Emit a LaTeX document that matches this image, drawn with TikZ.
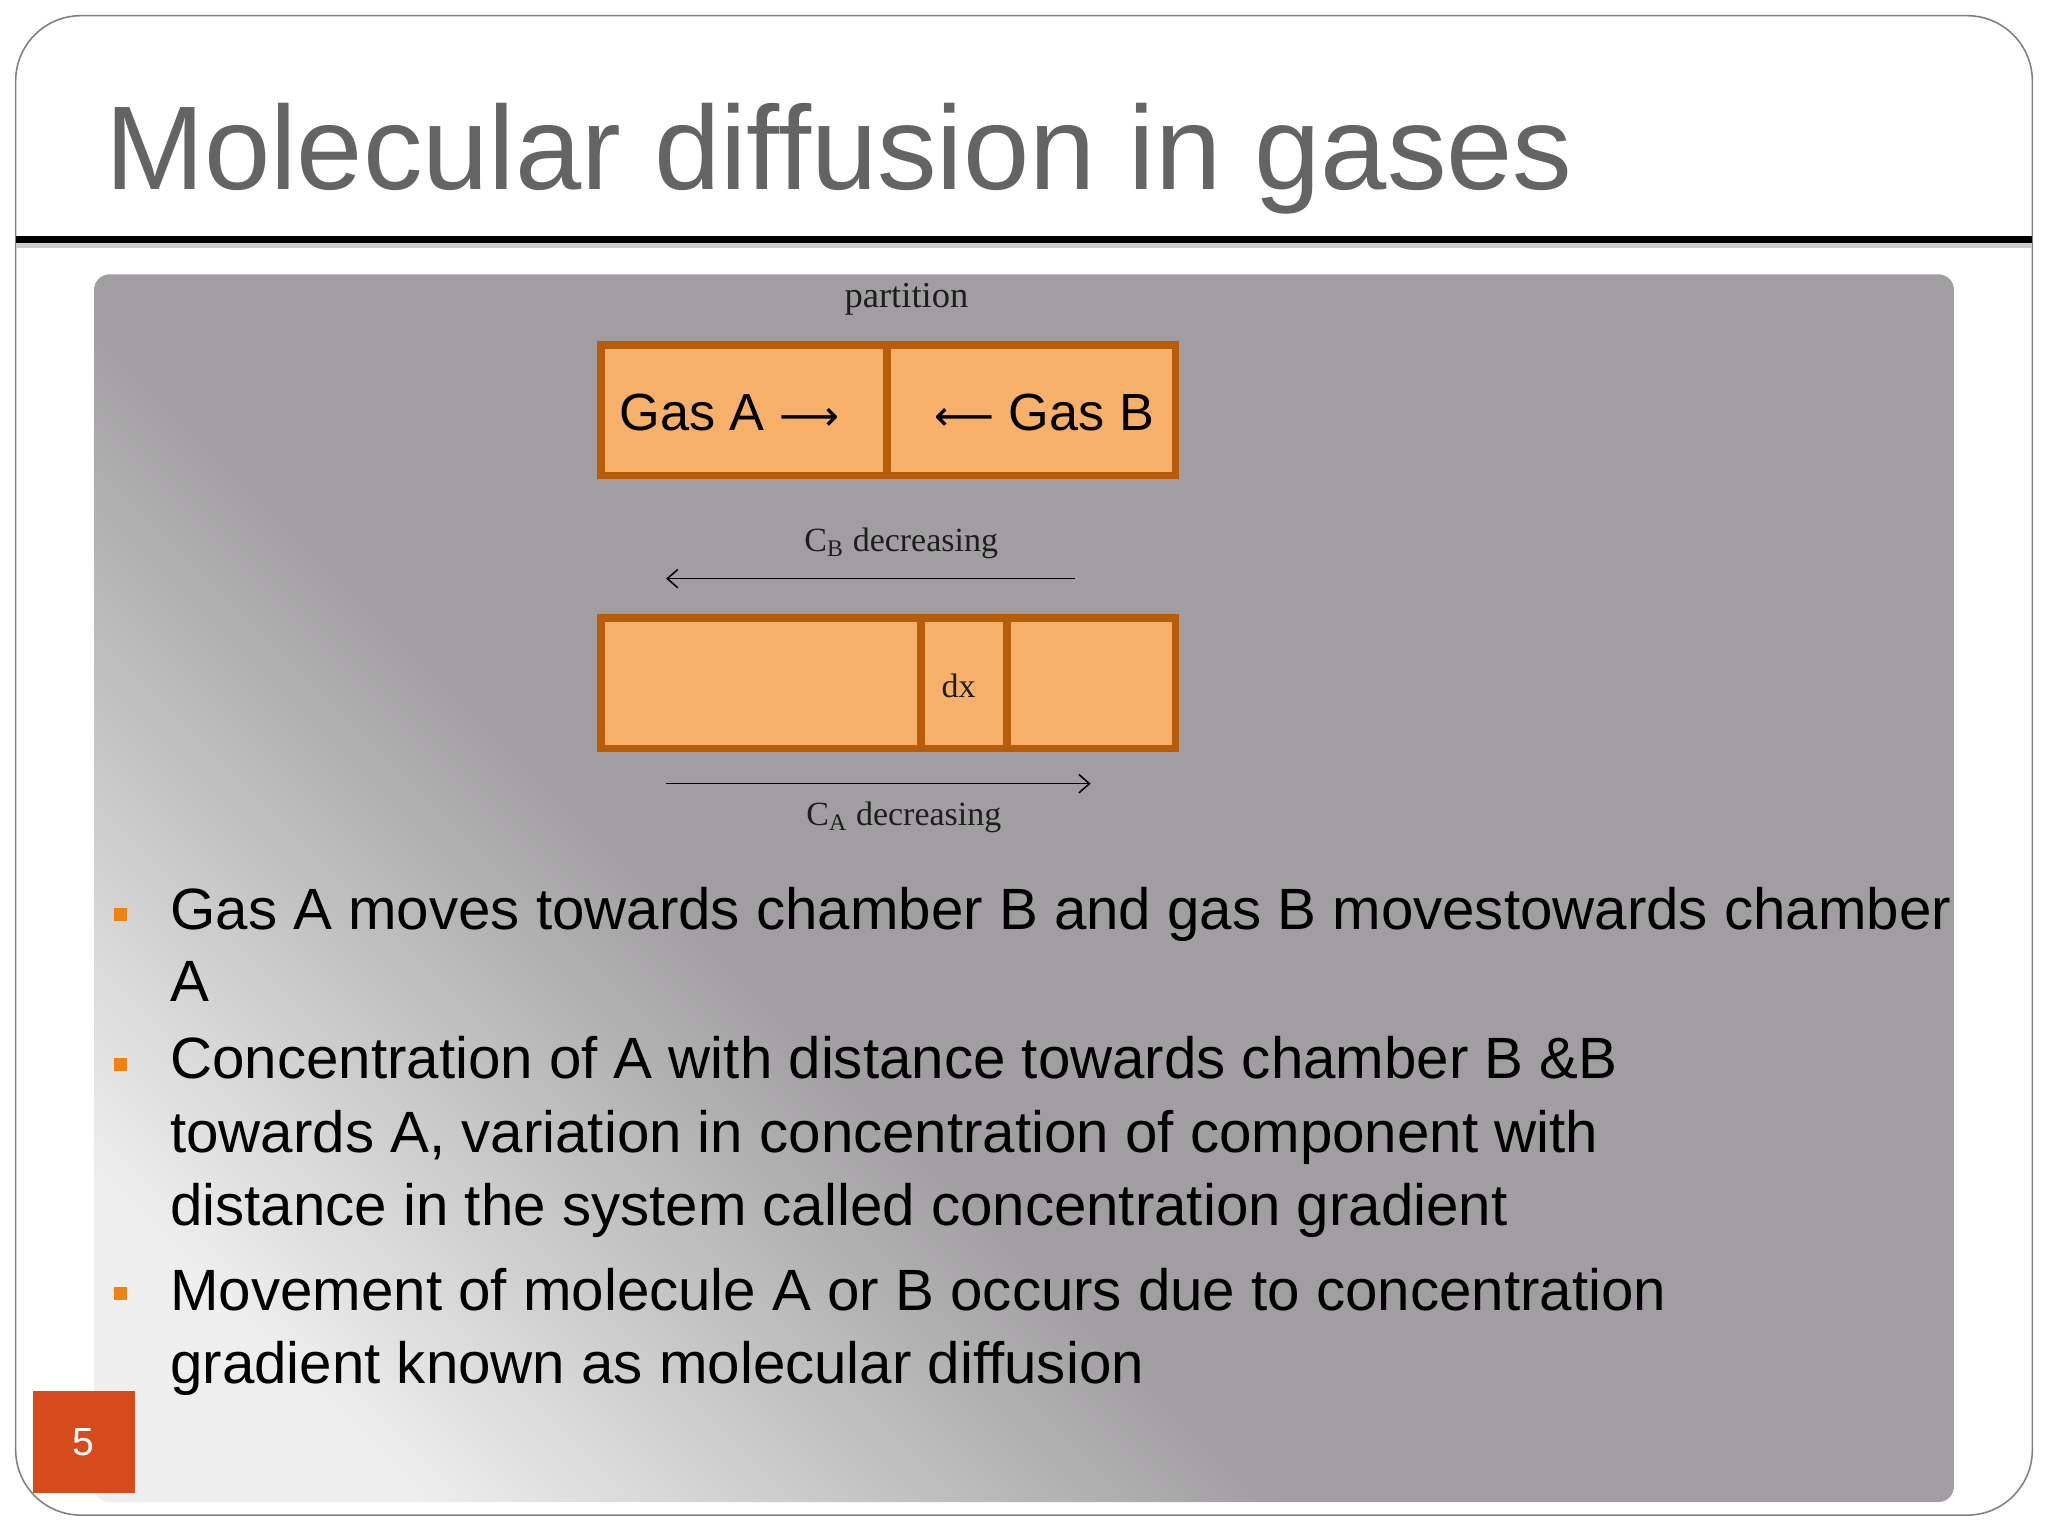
\documentclass[tikz,border=0pt]{standalone}
\usepackage{fontspec}
\usetikzlibrary{arrows.meta}
\setmainfont{Liberation Serif}
\setsansfont{Liberation Sans}
\newfontfamily\dv{DejaVu Sans}
\definecolor{pgray}{RGB}{160,158,160}
\definecolor{plight}{RGB}{238,238,238}
\pgfdeclareverticalshading{panelshade}{100bp}{color(0bp)=(plight); color(22bp)=(plight); color(42bp)=(pgray); color(100bp)=(pgray)}
\begin{document}
\begin{tikzpicture}[x=0.5pt,y=-0.5pt,
  box/.style={draw={rgb,255:red,185;green,92;blue,10},line width=3pt,fill={rgb,255:red,246;green,176;blue,106}},
  bul/.style={anchor=base west,font=\sffamily\fontsize{22.3}{26}\selectfont,inner sep=0},
  sq/.style={fill={rgb,255:red,240;green,130;blue,20},minimum size=5pt,inner sep=0},
  arr/.style={-{Straight Barb[length=4pt,width=7pt]},line width=0.6pt},
  lab/.style={font=\fontsize{13}{15}\selectfont,text={rgb,255:red,30;green,30;blue,30}}]
\useasboundingbox (0,0) rectangle (1568,1168);
\fill[white] (0,0) rectangle (1568,1168);
\draw[gray,line width=0.6pt,rounded corners=25pt] (12,12) rectangle (1556,1160);
\node[anchor=base west,inner sep=0,text={rgb,255:red,100;green,100;blue,100},font=\sffamily\fontsize{45.6}{50}\selectfont] (title) at (80,145) {Molecular diffusion in gases};
\fill[gray!40] (12,186) rectangle (1556,190);
\fill[black] (12,181) rectangle (1556,186);
\shade[rounded corners=6pt,shading=panelshade,shading angle=-45] (72,210) rectangle (1496,1150);
\node[lab,font=\fontsize{14}{16}\selectfont] (part) at (694,229) {partition};
\node[box,minimum width=220pt,minimum height=50pt,anchor=north west,inner sep=0] (b1) at (457,261) {};
\draw[draw={rgb,255:red,185;green,92;blue,10},line width=3pt] (679,261) -- (679,366);
\node[font=\sffamily\fontsize{20}{22}\selectfont,anchor=west,inner sep=0] (ga) at (474,316) {Gas A {\dv\fontsize{16}{18}\selectfont ⟶}};
\node[font=\sffamily\fontsize{20}{22}\selectfont,anchor=east,inner sep=0] (gb) at (884,316) {{\dv\fontsize{16}{18}\selectfont ⟵} Gas B};
\node[lab] (cb) at (690,416) {C\textsubscript{B} decreasing};
\coordinate (cb1) at (823,443); \coordinate (cb2) at (510,443);
\draw[arr] (cb1) -- (cb2);
\node[box,minimum width=220pt,minimum height=50pt,anchor=north west,inner sep=0] (b2) at (457,470) {};
\draw[draw={rgb,255:red,185;green,92;blue,10},line width=3pt] (705,470) -- (705,575) (771,470) -- (771,575);
\node[lab] (dx) at (734,525) {dx};
\coordinate (ca1) at (510,600); \coordinate (ca2) at (835,600);
\draw[arr] (ca1) -- (ca2);
\node[lab] (ca) at (692,626) {C\textsubscript{A} decreasing};
\node[sq] (s1) at (92,700) {};
\node[sq] (s2) at (92,815) {};
\node[sq] (s3) at (92,990) {};
\node[bul] (l1) at (130,712) {Gas A moves towards chamber B and gas B movestowards chamber};
\node[bul] (l2) at (130,767) {A};
\node[bul] (l3) at (130,826) {Concentration of A with distance towards chamber B \&B};
\node[bul] (l4) at (130,882) {towards A, variation in concentration of component with};
\node[bul] (l5) at (130,938) {distance in the system called concentration gradient};
\node[bul] (l6) at (130,1003) {Movement of molecule A or B occurs due to concentration};
\node[bul] (l7) at (130,1059) {gradient known as molecular diffusion};
\node[fill={rgb,255:red,214;green,74;blue,28},minimum size=39pt,inner sep=0,text=white,font=\sffamily\fontsize{15}{17}\selectfont] (pg) at (64,1104) {5};
\end{tikzpicture}
\end{document}
